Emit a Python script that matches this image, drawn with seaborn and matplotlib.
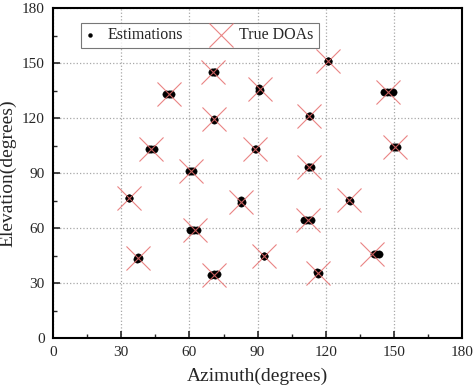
import numpy as np
import pandas as pd
import matplotlib
matplotlib.use('Agg')
import matplotlib.pyplot as plt
import seaborn as sns
from matplotlib.ticker import MultipleLocator

# true source directions (degrees)
true_az = [50.8, 90.9, 70.8, 43.2, 89.0, 60.7, 33.2, 82.9, 62.5, 147.5, 112.8,
           150.4, 112.8, 130.3, 112.0, 37.4, 92.7, 70.8, 140.5, 116.7, 70.5, 120.8]
true_el = [133.3, 135.8, 119.3, 103.1, 103.1, 91.4, 76.4, 74.5, 59.1, 134.5, 121.4,
           104.5, 93.3, 75.1, 64.2, 43.6, 44.9, 34.5, 46.0, 35.5, 145.4, 151.3]

# estimated directions, a few per source
est_az = [49.6, 50.8, 52.0,
          90.4, 91.2, 90.8,
          70.8, 71.0,
          42.0, 43.2, 44.3,
          89.0, 89.2,
          60.0, 60.8, 61.5,
          33.2, 33.4,
          82.9, 83.0, 82.8,
          60.2, 61.2, 62.2, 63.2,
          145.8, 147.0, 148.3, 149.5,
          112.8, 113.0,
          149.6, 150.5, 151.4,
          112.2, 112.8, 113.4,
          130.3, 130.6,
          110.4, 111.5, 112.6, 113.6,
          37.0, 37.6, 37.3,
          92.7, 92.9,
          69.5, 70.8, 72.0, 71.2,
          141.2, 142.3, 143.3,
          116.3, 117.1, 116.7,
          69.8, 70.6, 71.4,
          120.8, 121.0]
est_el = [133.3, 133.3, 133.3,
          136.3, 135.6, 135.0,
          119.3, 119.0,
          103.1, 103.1, 103.1,
          103.1, 102.9,
          91.4, 91.4, 91.4,
          76.4, 76.2,
          75.2, 74.5, 73.8,
          59.1, 59.1, 59.1, 59.1,
          134.5, 134.5, 134.5, 134.5,
          121.4, 121.2,
          104.5, 104.5, 104.5,
          93.3, 93.3, 93.3,
          75.1, 74.8,
          64.2, 64.2, 64.2, 64.2,
          43.3, 43.8, 44.0,
          44.9, 44.7,
          34.6, 35.0, 35.2, 34.3,
          46.0, 46.0, 46.0,
          35.9, 35.6, 35.1,
          145.4, 145.4, 145.4,
          151.3, 151.1]

est_df = pd.DataFrame({'az': est_az, 'el': est_el})
true_df = pd.DataFrame({'az': true_az, 'el': true_el})

sns.set_style('white')
plt.rcParams['font.family'] = ['Liberation Serif', 'DejaVu Serif']

fig = plt.figure(figsize=(4.74, 3.89), dpi=100)
ax = fig.add_axes([0.112, 0.131, 0.863, 0.848])

sns.scatterplot(data=est_df, x='az', y='el', ax=ax, color='black', s=28,
                edgecolor='black', linewidth=0.3, label='Estimations', zorder=3)
sns.scatterplot(data=true_df, x='az', y='el', ax=ax, color='#e66e6e', marker='x',
                s=300, linewidth=0.8, alpha=0.85, label='True DOAs', zorder=4)

ax.set_xlim(0, 180)
ax.set_ylim(0, 180)
ax.xaxis.set_major_locator(MultipleLocator(30))
ax.yaxis.set_major_locator(MultipleLocator(30))
ax.xaxis.set_minor_locator(MultipleLocator(15))
ax.yaxis.set_minor_locator(MultipleLocator(15))
ax.tick_params(which='major', direction='in', length=5, width=1.2, labelsize=11,
               bottom=True, left=True, top=False, right=False, pad=6)
ax.tick_params(which='minor', direction='in', length=3, width=1.0,
               bottom=True, left=True, top=False, right=False)
ax.grid(True, which='major', color='#a8a8a8', linestyle=':', linewidth=0.9)
ax.set_axisbelow(True)
for sp in ax.spines.values():
    sp.set_linewidth(1.5)
    sp.set_color('black')

ax.set_xlabel('Azimuth(degrees)', fontsize=14, labelpad=6)
ax.set_ylabel('Elevation(degrees)', fontsize=14, labelpad=4)

leg = ax.legend(loc='upper left', bbox_to_anchor=(0.068, 0.956), borderaxespad=0,
                ncol=2, fontsize=11.5, frameon=True, fancybox=False,
                edgecolor='#555555', borderpad=0.3, columnspacing=2.1,
                handlelength=0.5, handletextpad=0.9)
leg.get_frame().set_linewidth(0.8)
leg.legend_handles[0].set_sizes([8])

fig.savefig('out.png', dpi=100)
